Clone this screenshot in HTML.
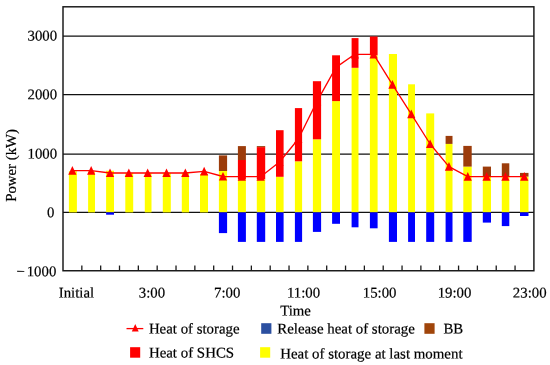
<!DOCTYPE html>
<html><head><meta charset="utf-8"><title>Chart</title>
<style>html,body{margin:0;padding:0;background:#fff}body{width:550px;height:365px;overflow:hidden}text{stroke:#000;stroke-width:.2px}</style>
</head><body>
<svg width="550" height="365" viewBox="0 0 550 365" style="display:block" font-family="'Liberation Serif', serif" font-size="14.8" fill="#000">
<rect width="550" height="365" fill="#fff"/>
<line x1="63.0" x2="533.9" y1="36.1" y2="36.1" stroke="#111" stroke-width="1.25"/>
<line x1="63.0" x2="533.9" y1="94.6" y2="94.6" stroke="#111" stroke-width="1.25"/>
<line x1="63.0" x2="533.9" y1="154.0" y2="154.0" stroke="#111" stroke-width="1.25"/>
<line x1="63.0" x2="533.9" y1="212.4" y2="212.4" stroke="#111" stroke-width="1.25"/>
<rect x="68.90" y="171.20" width="8.00" height="41.20" fill="#FFFF00"/>
<rect x="88.10" y="171.50" width="6.90" height="40.90" fill="#FFFF00"/>
<rect x="106.10" y="170.70" width="7.90" height="41.70" fill="#FFFF00"/>
<rect x="106.10" y="212.40" width="7.90" height="2.30" fill="#0000FF"/>
<rect x="125.30" y="173.00" width="7.90" height="39.40" fill="#FFFF00"/>
<rect x="144.80" y="173.00" width="6.70" height="39.40" fill="#FFFF00"/>
<rect x="162.80" y="173.00" width="8.00" height="39.40" fill="#FFFF00"/>
<rect x="181.80" y="173.00" width="7.20" height="39.40" fill="#FFFF00"/>
<rect x="200.00" y="174.00" width="8.00" height="38.40" fill="#FFFF00"/>
<rect x="218.90" y="171.00" width="8.20" height="41.40" fill="#FFFF00"/>
<rect x="218.90" y="155.40" width="8.20" height="15.60" fill="#9C3C0B"/>
<rect x="218.90" y="212.40" width="8.20" height="20.70" fill="#0000FF"/>
<rect x="237.90" y="179.30" width="8.00" height="33.10" fill="#FFFF00"/>
<rect x="237.90" y="160.00" width="8.00" height="19.30" fill="#FF0000"/>
<rect x="237.90" y="146.10" width="8.00" height="13.90" fill="#9C3C0B"/>
<rect x="237.90" y="212.40" width="8.00" height="29.50" fill="#0000FF"/>
<rect x="256.80" y="179.30" width="8.40" height="33.10" fill="#FFFF00"/>
<rect x="256.80" y="147.10" width="8.40" height="32.20" fill="#FF0000"/>
<rect x="256.80" y="146.10" width="8.40" height="1.00" fill="#9C3C0B"/>
<rect x="256.80" y="212.40" width="8.40" height="29.50" fill="#0000FF"/>
<rect x="276.00" y="176.80" width="7.60" height="35.60" fill="#FFFF00"/>
<rect x="276.00" y="130.20" width="7.60" height="46.60" fill="#FF0000"/>
<rect x="276.00" y="212.40" width="7.60" height="29.50" fill="#0000FF"/>
<rect x="294.90" y="161.30" width="7.20" height="51.10" fill="#FFFF00"/>
<rect x="294.90" y="108.10" width="7.20" height="53.20" fill="#FF0000"/>
<rect x="294.90" y="212.40" width="7.20" height="29.50" fill="#0000FF"/>
<rect x="312.90" y="139.30" width="8.20" height="73.10" fill="#FFFF00"/>
<rect x="312.90" y="81.20" width="8.20" height="58.10" fill="#FF0000"/>
<rect x="312.90" y="212.40" width="8.20" height="19.50" fill="#0000FF"/>
<rect x="332.10" y="101.10" width="7.90" height="111.30" fill="#FFFF00"/>
<rect x="332.10" y="55.30" width="7.90" height="45.80" fill="#FF0000"/>
<rect x="332.10" y="212.40" width="7.90" height="11.40" fill="#0000FF"/>
<rect x="351.60" y="67.80" width="6.90" height="144.60" fill="#FFFF00"/>
<rect x="351.60" y="38.10" width="6.90" height="29.70" fill="#FF0000"/>
<rect x="351.60" y="212.40" width="6.90" height="14.90" fill="#0000FF"/>
<rect x="369.90" y="55.30" width="7.70" height="157.10" fill="#FFFF00"/>
<rect x="369.90" y="36.50" width="7.70" height="18.80" fill="#FF0000"/>
<rect x="369.90" y="212.40" width="7.70" height="15.90" fill="#0000FF"/>
<rect x="388.90" y="54.00" width="8.10" height="158.40" fill="#FFFF00"/>
<rect x="388.90" y="212.40" width="8.10" height="29.50" fill="#0000FF"/>
<rect x="408.10" y="84.30" width="6.90" height="128.10" fill="#FFFF00"/>
<rect x="408.10" y="212.40" width="6.90" height="29.50" fill="#0000FF"/>
<rect x="426.20" y="113.40" width="8.00" height="99.00" fill="#FFFF00"/>
<rect x="426.20" y="212.40" width="8.00" height="29.50" fill="#0000FF"/>
<rect x="445.60" y="143.90" width="6.90" height="68.50" fill="#FFFF00"/>
<rect x="445.60" y="135.90" width="6.90" height="8.00" fill="#9C3C0B"/>
<rect x="445.60" y="212.40" width="6.90" height="29.50" fill="#0000FF"/>
<rect x="463.30" y="166.60" width="8.40" height="45.80" fill="#FFFF00"/>
<rect x="463.30" y="145.90" width="8.40" height="20.70" fill="#9C3C0B"/>
<rect x="463.30" y="212.40" width="8.40" height="29.50" fill="#0000FF"/>
<rect x="482.80" y="176.60" width="8.20" height="35.80" fill="#FFFF00"/>
<rect x="482.80" y="166.60" width="8.20" height="10.00" fill="#9C3C0B"/>
<rect x="482.80" y="212.40" width="8.20" height="10.20" fill="#0000FF"/>
<rect x="501.80" y="176.60" width="7.50" height="35.80" fill="#FFFF00"/>
<rect x="501.80" y="163.30" width="7.50" height="13.30" fill="#9C3C0B"/>
<rect x="501.80" y="212.40" width="7.50" height="13.70" fill="#0000FF"/>
<rect x="520.00" y="176.60" width="8.50" height="35.80" fill="#FFFF00"/>
<rect x="520.00" y="172.90" width="8.50" height="3.70" fill="#9C3C0B"/>
<rect x="520.00" y="212.40" width="8.50" height="3.60" fill="#0000FF"/>
<rect x="63.0" y="6.8" width="470.9" height="263.95" fill="none" stroke="#161616" stroke-width="1.45"/>
<line x1="81.84" x2="81.84" y1="265.55" y2="270.75" stroke="#1a1a1a" stroke-width="1.3"/>
<line x1="100.67" x2="100.67" y1="265.55" y2="270.75" stroke="#1a1a1a" stroke-width="1.3"/>
<line x1="119.51" x2="119.51" y1="265.55" y2="270.75" stroke="#1a1a1a" stroke-width="1.3"/>
<line x1="138.34" x2="138.34" y1="265.55" y2="270.75" stroke="#1a1a1a" stroke-width="1.3"/>
<line x1="157.18" x2="157.18" y1="265.55" y2="270.75" stroke="#1a1a1a" stroke-width="1.3"/>
<line x1="176.02" x2="176.02" y1="265.55" y2="270.75" stroke="#1a1a1a" stroke-width="1.3"/>
<line x1="194.85" x2="194.85" y1="265.55" y2="270.75" stroke="#1a1a1a" stroke-width="1.3"/>
<line x1="213.69" x2="213.69" y1="265.55" y2="270.75" stroke="#1a1a1a" stroke-width="1.3"/>
<line x1="232.52" x2="232.52" y1="265.55" y2="270.75" stroke="#1a1a1a" stroke-width="1.3"/>
<line x1="251.36" x2="251.36" y1="265.55" y2="270.75" stroke="#1a1a1a" stroke-width="1.3"/>
<line x1="270.20" x2="270.20" y1="265.55" y2="270.75" stroke="#1a1a1a" stroke-width="1.3"/>
<line x1="289.03" x2="289.03" y1="265.55" y2="270.75" stroke="#1a1a1a" stroke-width="1.3"/>
<line x1="307.87" x2="307.87" y1="265.55" y2="270.75" stroke="#1a1a1a" stroke-width="1.3"/>
<line x1="326.70" x2="326.70" y1="265.55" y2="270.75" stroke="#1a1a1a" stroke-width="1.3"/>
<line x1="345.54" x2="345.54" y1="265.55" y2="270.75" stroke="#1a1a1a" stroke-width="1.3"/>
<line x1="364.38" x2="364.38" y1="265.55" y2="270.75" stroke="#1a1a1a" stroke-width="1.3"/>
<line x1="383.21" x2="383.21" y1="265.55" y2="270.75" stroke="#1a1a1a" stroke-width="1.3"/>
<line x1="402.05" x2="402.05" y1="265.55" y2="270.75" stroke="#1a1a1a" stroke-width="1.3"/>
<line x1="420.88" x2="420.88" y1="265.55" y2="270.75" stroke="#1a1a1a" stroke-width="1.3"/>
<line x1="439.72" x2="439.72" y1="265.55" y2="270.75" stroke="#1a1a1a" stroke-width="1.3"/>
<line x1="458.56" x2="458.56" y1="265.55" y2="270.75" stroke="#1a1a1a" stroke-width="1.3"/>
<line x1="477.39" x2="477.39" y1="265.55" y2="270.75" stroke="#1a1a1a" stroke-width="1.3"/>
<line x1="496.23" x2="496.23" y1="265.55" y2="270.75" stroke="#1a1a1a" stroke-width="1.3"/>
<line x1="515.06" x2="515.06" y1="265.55" y2="270.75" stroke="#1a1a1a" stroke-width="1.3"/>
<polyline points="72.35,170.70 91.18,170.70 110.01,173.00 128.84,173.00 147.67,173.00 166.50,173.00 185.33,173.00 204.16,171.30 222.99,176.50 241.82,176.70 260.65,176.70 279.48,162.00 298.31,139.00 317.14,101.10 335.97,67.40 354.80,54.30 373.63,54.30 392.46,84.60 411.29,114.20 430.12,144.00 448.95,166.60 467.78,176.60 486.61,176.60 505.44,176.60 524.27,176.60" fill="none" stroke="#FF0000" stroke-width="1.3" stroke-linejoin="round"/>
<polygon points="72.35,166.10 76.45,174.80 68.25,174.80" fill="#FF0000"/>
<polygon points="91.18,166.10 95.28,174.80 87.08,174.80" fill="#FF0000"/>
<polygon points="110.01,168.40 114.11,177.10 105.91,177.10" fill="#FF0000"/>
<polygon points="128.84,168.40 132.94,177.10 124.74,177.10" fill="#FF0000"/>
<polygon points="147.67,168.40 151.77,177.10 143.57,177.10" fill="#FF0000"/>
<polygon points="166.50,168.40 170.60,177.10 162.40,177.10" fill="#FF0000"/>
<polygon points="185.33,168.40 189.43,177.10 181.23,177.10" fill="#FF0000"/>
<polygon points="204.16,166.70 208.26,175.40 200.06,175.40" fill="#FF0000"/>
<polygon points="222.99,171.90 227.09,180.60 218.89,180.60" fill="#FF0000"/>
<polygon points="241.82,172.10 245.92,180.80 237.72,180.80" fill="#FF0000"/>
<polygon points="260.65,172.10 264.75,180.80 256.55,180.80" fill="#FF0000"/>
<polygon points="279.48,157.40 283.58,166.10 275.38,166.10" fill="#FF0000"/>
<polygon points="298.31,134.40 302.41,143.10 294.21,143.10" fill="#FF0000"/>
<polygon points="317.14,96.50 321.24,105.20 313.04,105.20" fill="#FF0000"/>
<polygon points="335.97,62.80 340.07,71.50 331.87,71.50" fill="#FF0000"/>
<polygon points="354.80,49.70 358.90,58.40 350.70,58.40" fill="#FF0000"/>
<polygon points="373.63,49.70 377.73,58.40 369.53,58.40" fill="#FF0000"/>
<polygon points="392.46,80.00 396.56,88.70 388.36,88.70" fill="#FF0000"/>
<polygon points="411.29,109.60 415.39,118.30 407.19,118.30" fill="#FF0000"/>
<polygon points="430.12,139.40 434.22,148.10 426.02,148.10" fill="#FF0000"/>
<polygon points="448.95,162.00 453.05,170.70 444.85,170.70" fill="#FF0000"/>
<polygon points="467.78,172.00 471.88,180.70 463.68,180.70" fill="#FF0000"/>
<polygon points="486.61,172.00 490.71,180.70 482.51,180.70" fill="#FF0000"/>
<polygon points="505.44,172.00 509.54,180.70 501.34,180.70" fill="#FF0000"/>
<polygon points="524.27,172.00 528.37,180.70 520.17,180.70" fill="#FF0000"/>
<text transform="translate(57.1,40.55) rotate(0.03)" text-anchor="end">3000</text>
<text transform="translate(57.1,99.2) rotate(0.03)" text-anchor="end">2000</text>
<text transform="translate(57.1,158.6) rotate(0.03)" text-anchor="end">1000</text>
<text transform="translate(54.5,217.3) rotate(0.03)" text-anchor="end">0</text>
<text transform="translate(56.3,276.15) rotate(0.03)" text-anchor="end">−<tspan dx="1.9">1000</tspan></text>
<text transform="translate(76.4,297.6) rotate(0.03)" text-anchor="middle">Initial</text>
<text transform="translate(151.9,297.6) rotate(0.03)" text-anchor="middle">3:00</text>
<text transform="translate(227.2,297.6) rotate(0.03)" text-anchor="middle">7:00</text>
<text transform="translate(303.5,297.6) rotate(0.03)" text-anchor="middle">11:00</text>
<text transform="translate(379.6,297.6) rotate(0.03)" text-anchor="middle">15:00</text>
<text transform="translate(454.5,297.6) rotate(0.03)" text-anchor="middle">19:00</text>
<text transform="translate(529.7,297.6) rotate(0.03)" text-anchor="middle">23:00</text>
<text transform="translate(280.2,315.4) rotate(0.03)">Time</text>
<text transform="translate(16.2,165.4) rotate(-90)" text-anchor="middle">Power (kW)</text>
<line x1="126.5" x2="143.3" y1="328.6" y2="328.6" stroke="#FF0000" stroke-width="1.3"/>
<polygon points="135.25,324.0 138.7,331.5 131.8,331.5" fill="#FF0000"/>
<text transform="translate(148.9,333.45) rotate(0.03)" font-size="14.85">Heat of storage</text>
<rect x="261.2" y="323.2" width="10.2" height="10.6" fill="#2B4FA0"/>
<text transform="translate(277.2,333.45) rotate(0.03)" font-size="14.9">Release heat of storage</text>
<rect x="424.4" y="323.2" width="10.2" height="10.6" fill="#A0450A"/>
<text transform="translate(443.5,333.45) rotate(0.03)">BB</text>
<rect x="130.1" y="347.2" width="10.1" height="10.5" fill="#FF0000"/>
<text transform="translate(148.9,357.4) rotate(0.03)" font-size="14.9">Heat of SHCS</text>
<rect x="260.1" y="347.2" width="10.1" height="10.5" fill="#FFFF00"/>
<text transform="translate(280.2,358.5) rotate(0.03)" font-size="14.9">Heat of storage at last moment</text>
</svg>
</body></html>
